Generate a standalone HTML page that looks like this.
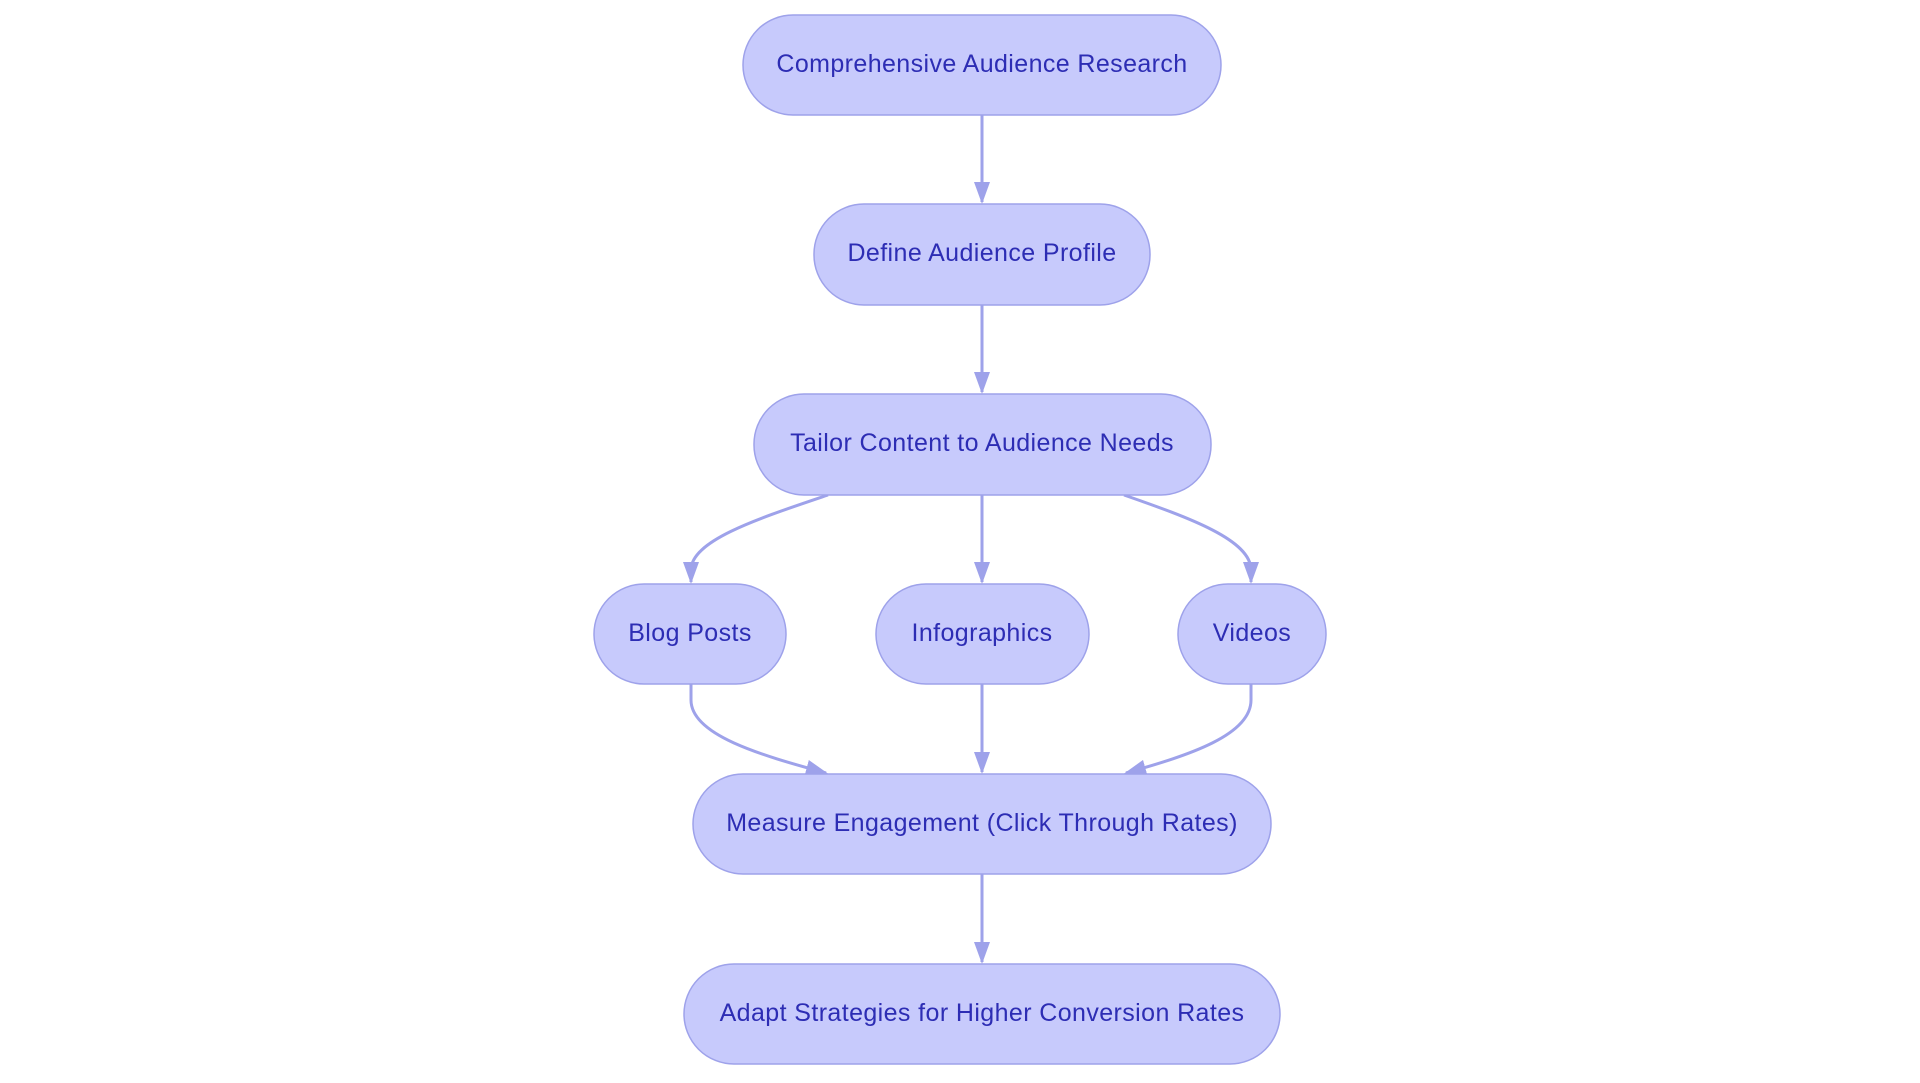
<!DOCTYPE html>
<html><head><meta charset="utf-8"><style>
html,body{margin:0;padding:0;background:#fff;}
svg{display:block;}
text{font-family:"Liberation Sans",sans-serif;font-size:25px;fill:#2d2db4;text-anchor:middle;dominant-baseline:central;letter-spacing:0.4px;}
.n{fill:#c7cafc;stroke:#9ea2ea;stroke-width:1.5;}
.e{fill:none;stroke:#9ea2ea;stroke-width:3;}
</style></head><body>
<svg width="1920" height="1083" viewBox="0 0 1920 1083">
<defs>
<marker id="b" markerWidth="22" markerHeight="16" refX="20" refY="8" orient="auto" markerUnits="userSpaceOnUse"><path d="M0,0 L22,8 L0,16 z" fill="#9ea2ea"/></marker></defs>
<path class="e" d="M982,115 L982,202" marker-end="url(#b)"/>
<path class="e" d="M982,305 L982,392" marker-end="url(#b)"/>
<path class="e" d="M828,495 C760,518 691,540 691,570 L691,582" marker-end="url(#b)"/>
<path class="e" d="M982,495 L982,582" marker-end="url(#b)"/>
<path class="e" d="M1124,495 C1190,518 1251,540 1251,570 L1251,582" marker-end="url(#b)"/>
<path class="e" d="M691,684 L691,700 C691,735 760,755 826,773" marker-end="url(#b)"/>
<path class="e" d="M982,684 L982,772" marker-end="url(#b)"/>
<path class="e" d="M1251,684 L1251,700 C1251,735 1190,755 1126,773" marker-end="url(#b)"/>
<path class="e" d="M982,874 L982,962" marker-end="url(#b)"/>
<rect class="n" x="743" y="15" width="478" height="100" rx="50"/>
<text x="982" y="64">Comprehensive Audience Research</text>
<rect class="n" x="814" y="204" width="336" height="101" rx="50"/>
<text x="982" y="253">Define Audience Profile</text>
<rect class="n" x="754" y="394" width="457" height="101" rx="50"/>
<text x="982" y="443">Tailor Content to Audience Needs</text>
<rect class="n" x="594" y="584" width="192" height="100" rx="50"/>
<text x="690" y="633">Blog Posts</text>
<rect class="n" x="876" y="584" width="213" height="100" rx="50"/>
<text x="982" y="633">Infographics</text>
<rect class="n" x="1178" y="584" width="148" height="100" rx="50"/>
<text x="1252" y="633">Videos</text>
<rect class="n" x="693" y="774" width="578" height="100" rx="50"/>
<text x="982" y="823">Measure Engagement (Click Through Rates)</text>
<rect class="n" x="684" y="964" width="596" height="100" rx="50"/>
<text x="982" y="1013">Adapt Strategies for Higher Conversion Rates</text>
</svg>
</body></html>
